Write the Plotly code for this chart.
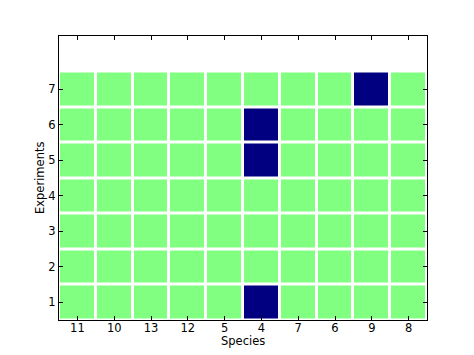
import plotly.graph_objects as go

species = ["11", "10", "13", "12", "5", "4", "7", "6", "9", "8"]
experiments = [1, 2, 3, 4, 5, 6, 7]
# 1 = present (green), 0 = absent (dark blue); rows = experiments 1..7
presence = [
    [1, 1, 1, 1, 1, 0, 1, 1, 1, 1],
    [1, 1, 1, 1, 1, 1, 1, 1, 1, 1],
    [1, 1, 1, 1, 1, 1, 1, 1, 1, 1],
    [1, 1, 1, 1, 1, 1, 1, 1, 1, 1],
    [1, 1, 1, 1, 1, 0, 1, 1, 1, 1],
    [1, 1, 1, 1, 1, 0, 1, 1, 1, 1],
    [1, 1, 1, 1, 1, 1, 1, 1, 0, 1],
]

xidx = list(range(len(species)))

fig = go.Figure(go.Heatmap(
    x=xidx, y=experiments, z=presence,
    colorscale=[[0, "#000080"], [1, "#80FF80"]],
    zmin=0, zmax=1, showscale=False, xgap=3, ygap=3, hoverinfo="skip",
))

font = dict(family="DejaVu Sans", size=11.5, color="black")
fig.update_layout(
    width=466, height=347, autosize=False,
    margin=dict(l=51, r=47, t=28, b=35, pad=0),
    paper_bgcolor="white", plot_bgcolor="white",
    font=font,
    xaxis=dict(
        range=[-0.5, 9.5], tickvals=xidx, ticktext=species,
        ticks="inside", ticklen=4, tickcolor="black", ticklabelstandoff=-3,
        showline=True, linecolor="black", linewidth=1, mirror="ticks",
        showgrid=False, zeroline=False, automargin=False,
    ),
    yaxis=dict(
        range=[0.5, 8.5], tickvals=experiments,
        ticks="inside", ticklen=4, tickcolor="black",
        showline=True, linecolor="black", linewidth=1, mirror="ticks",
        showgrid=False, zeroline=False, automargin=False,
    ),
    annotations=[
        dict(text="Species", x=0.5, y=0, xref="paper", yref="paper",
             xanchor="center", yanchor="middle", yshift=-21,
             showarrow=False, font=font),
        dict(text="Experiments", x=0, y=0.5, xref="paper", yref="paper",
             xanchor="center", yanchor="middle", xshift=-19, textangle=-90,
             showarrow=False, font=font),
    ],
)

fig.write_html("out.html")
